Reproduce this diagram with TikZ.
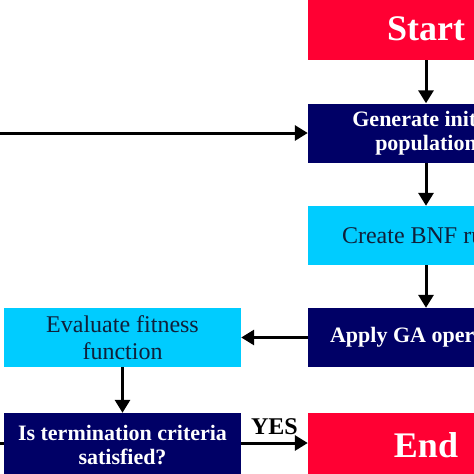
\documentclass[tikz,border=0pt]{standalone}
\usepackage{fontspec}
\setmainfont{Liberation Serif}
\usetikzlibrary{arrows.meta}
\definecolor{hotred}{HTML}{FF0033}
\definecolor{navybox}{HTML}{000066}
\definecolor{cyanbox}{HTML}{00CCFF}
\definecolor{darktext}{HTML}{10203A}
\tikzset{
  box/.style={rectangle, inner sep=0pt, minimum width=236pt, minimum height=59pt, align=center},
  redbox/.style={box, fill=hotred, text=white, font=\fontsize{36}{40}\selectfont\bfseries},
  navbox/.style={box, fill=navybox, text=white, font=\fontsize{22}{24}\selectfont\bfseries},
  cybox/.style={box, fill=cyanbox, text=darktext, font=\fontsize{24}{27}\selectfont},
  conn/.style={line width=3pt, -{Triangle[length=13pt,width=15pt]}},
}
\begin{document}
\begin{tikzpicture}[x=1pt,y=-1pt]
\useasboundingbox (0,0) rectangle (474,474);
\clip (0,0) rectangle (474,474);
\node[redbox, minimum height=62pt] (start) at (426,29) {Start};
\node[navbox] (gen) at (426,133) {Generate initial\\population};
\node[cybox] (bnf) at (426,235.5) {Create BNF rules};
\node[navbox] (ga) at (426,337.5) {Apply GA operators};
\node[cybox, minimum width=237pt] (eval) at (122.5,337.5) {Evaluate fitness\\function};
\node[navbox, minimum width=237pt, minimum height=64pt] (term) at (122.5,445) {Is termination criteria\\satisfied?};
\node[redbox, minimum height=64pt] (end) at (426,445) {End};
\coordinate (loopb) at (-30,443);
\coordinate (loopt) at (-30,133);
\draw[conn] (start) -- (gen);
\draw[conn] (gen) -- (bnf);
\draw[conn] (bnf) -- (ga);
\draw[conn] (ga) -- (eval);
\draw[conn] (eval) -- (term);
\draw[conn] (term.east |- 0,443) -- node[above=3pt, font=\fontsize{24}{26}\selectfont\bfseries] (yes) {YES} (end.west |- 0,443);
\draw[conn] (term.west |- 0,443) -- (loopb) -- (loopt) -- (gen.west);
\end{tikzpicture}
\end{document}
